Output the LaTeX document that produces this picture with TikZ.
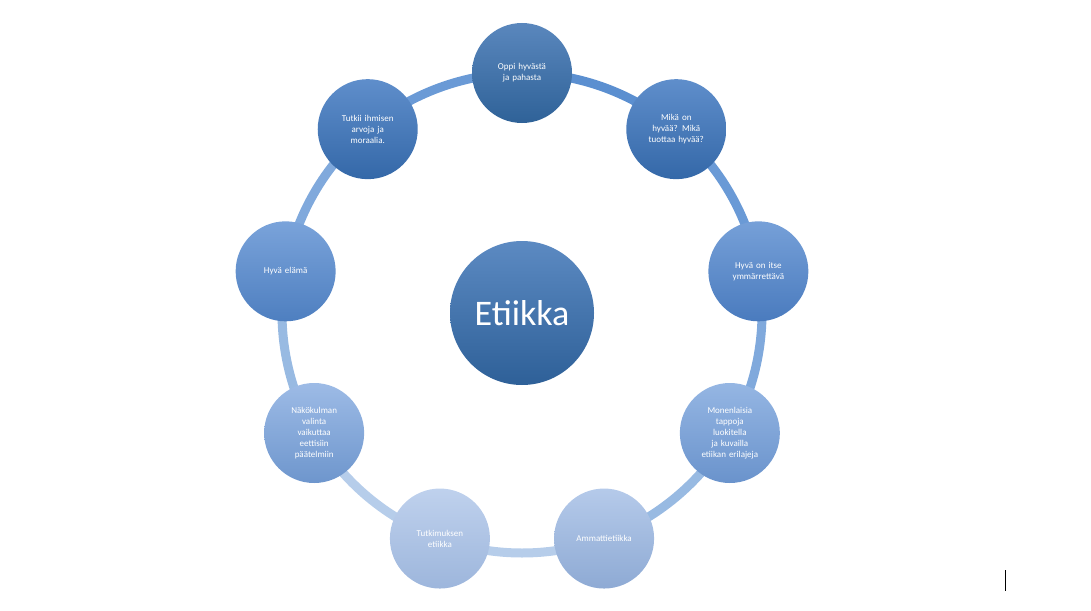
\documentclass[tikz,border=0pt]{standalone}
\usepackage{fontspec}
\setmainfont{Carlito}
\usetikzlibrary{calc}
\begin{document}
\begin{tikzpicture}[x=1pt,y=-1pt,
  sat/.style={circle,minimum size=100pt,inner sep=0pt,text=white,align=center,font=\fontsize{9}{11}\selectfont,text width=58pt},
  ring/.style={line width=9pt}]
\useasboundingbox (0,0) rectangle (1091,610);
\coordinate (c) at (522,313);
% ring segments
\definecolor{r0}{HTML}{5B8FD0}\definecolor{r1}{HTML}{6A9AD6}\definecolor{r2}{HTML}{80A9DC}
\definecolor{r3}{HTML}{98BAE2}\definecolor{r4}{HTML}{B6CDEA}\definecolor{r5}{HTML}{B6CDEA}
\definecolor{r6}{HTML}{98BAE2}\definecolor{r7}{HTML}{80A9DC}\definecolor{r8}{HTML}{6A9AD6}
\foreach \i in {0,...,8}{
  \pgfmathsetmacro\a{-90+40*\i}
  \draw[ring,color=r\i] (c) ++(\a:240) arc[start angle=\a,delta angle=40,radius=240];
}
% nodes
\foreach \i/\t/\b/\txt in {
 0/5A87BD/2F6298/{Oppi hyvästä ja pahasta},
 1/5F8ECB/3468A8/{Mikä on hyvää? Mikä tuottaa hyvää?},
 2/76A0D8/4A7BBE/{Hyvä on itse ymmärrettävä},
 3/95B6E3/6A93CC/{Monenlaisia tappoja luokitella ja kuvailla etiikan erilajeja},
 4/B5CAEA/8EAAD4/{Ammattietiikka},
 5/BFD1ED/9DB6DC/{Tutkimuksen etiikka},
 6/9DBBE6/6E96CD/{Näkökulman valinta vaikuttaa eettisiin päätelmiin},
 7/7AA3DA/4E7FC0/{Hyvä elämä},
 8/5F8ECB/3468A8/{Tutkii ihmisen arvoja ja moraalia.}}{
  \pgfmathsetmacro\a{-90+40*\i}
  \definecolor{tc}{HTML}{\t}\definecolor{bc}{HTML}{\b}
  \node[sat,top color=tc,bottom color=bc] (n\i) at ($(c)+(\a:240)$) {\txt};
}
\node[circle,minimum size=144pt,top color={rgb,255:red,92;green,138;blue,194},bottom color={rgb,255:red,46;green,96;blue,152},text=white,font=\fontsize{36}{40}\selectfont] (center) at (c) {Etiikka};
\draw[line width=1pt] (1005,570) -- (1005,591);
\end{tikzpicture}
\end{document}
